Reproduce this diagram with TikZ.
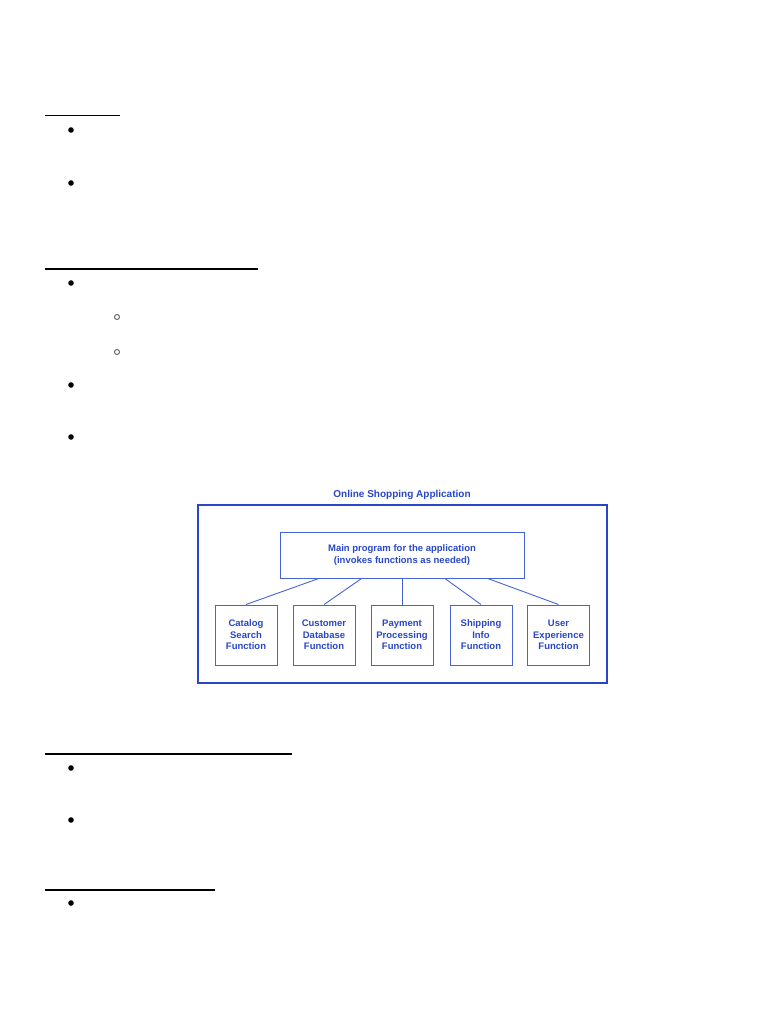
\documentclass[tikz,border=0pt]{standalone}
\usepackage{fontspec}
\setmainfont{Liberation Sans}
\usepackage{xcolor}
\usetikzlibrary{positioning,calc}
\definecolor{appblue}{RGB}{40,70,200}
\definecolor{lineblue}{RGB}{70,100,215}

\begin{document}
\begin{tikzpicture}[x=1pt,y=-1pt,
  funcbox/.style={draw=lineblue,line width=1pt,minimum width=62pt,minimum height=60pt,
    align=center,text=appblue,font=\bfseries\fontsize{9.5}{11.5}\selectfont,inner sep=0pt},
  mainbox/.style={draw=lineblue,line width=1pt,minimum width=244pt,minimum height=46pt,
    align=center,text=appblue,font=\bfseries\fontsize{9.5}{11.5}\selectfont},
  link/.style={draw=lineblue,line width=0.9pt}]
\useasboundingbox (0,0) rectangle (768,1024);
% Ueberschriften (nur Unterstriche)
\draw[line width=1pt] (45,116) -- (120,116);
\draw[line width=2pt] (45,269) -- (258,269);
\draw[line width=2pt] (45,754) -- (292,754);
\draw[line width=2pt] (45,890) -- (215,890);
% Aufzaehlungspunkte
\foreach \y in {130,183,283,385,437,768,820,903}{
  \fill (71,\y) circle (2.8pt);
}
\foreach \y in {317,352}{
  \draw[gray!80!black,line width=1pt] (117,\y) circle (2.5pt);
}
% Diagramm
\begin{scope}
  \node[text=appblue,font=\bfseries\fontsize{10}{12}\selectfont] (title) at (402,495) {Online Shopping Application};
  \draw[appblue,line width=2pt] (198,505) rectangle (607,683);
  \node[mainbox] (main) at (402,555) {Main program for the application\\(invokes functions as needed)};
  \node[funcbox] (catalog) at (246,635) {Catalog\\Search\\Function};
  \node[funcbox] (customer) at (324,635) {Customer\\Database\\Function};
  \node[funcbox] (payment) at (402,635) {Payment\\Processing\\Function};
  \node[funcbox] (shipping) at (481,635) {Shipping\\Info\\Function};
  \node[funcbox] (user) at (558.5,635) {User\\Experience\\Function};
  \foreach \f/\t in {0.16/catalog,0.335/customer,0.5/payment,0.675/shipping,0.85/user}{
    \draw[link] ($(main.south west)!\f!(main.south east)$) -- (\t.north);
  }
\end{scope}
\end{tikzpicture}
\end{document}
